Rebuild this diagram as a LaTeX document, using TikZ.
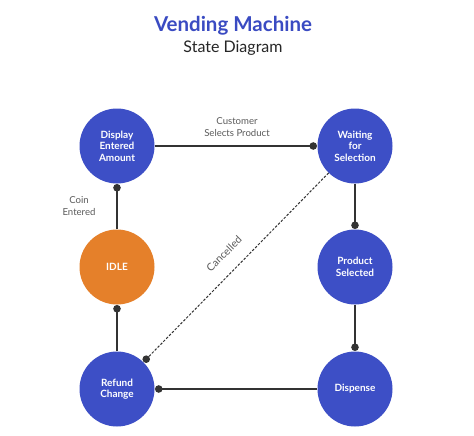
\documentclass[tikz,border=0pt]{standalone}
\usepackage{fontspec}
\setmainfont{Lato}
\usetikzlibrary{arrows.meta}
\definecolor{stblue}{HTML}{3D4FC6}
\definecolor{titleblue}{HTML}{3A4BC2}
\definecolor{storange}{HTML}{E5802A}
\definecolor{linegray}{HTML}{333333}
\definecolor{labelgray}{HTML}{5A5A5A}
\tikzset{
  state/.style={circle, fill=stblue, draw=none, minimum size=75pt, inner sep=0pt, align=center, text=white, font=\bfseries\fontsize{10}{11.5}\selectfont},
  idlestate/.style={state, fill=storange},
  conn/.style={draw=linegray, line width=1.1pt, -{Circle[length=7.5pt,width=7.5pt]}, shorten >=0.3pt},
  dashconn/.style={conn, line width=1pt, dash pattern=on 2.5pt off 1.6pt},
  lbl/.style={align=center, text=labelgray, font=\fontsize{9.6}{12}\selectfont}
}
\begin{document}
\begin{tikzpicture}[x=1pt,y=-1pt]
\fill[white] (0,0) rectangle (474,436);
\useasboundingbox (0,0) rectangle (474,436);
\node[text=titleblue, font=\bfseries\fontsize{20.5}{24}\selectfont] (title) at (233,26) {Vending Machine};
\node[text=black!85, font=\fontsize{16}{19}\selectfont] (subtitle) at (233,48) {State Diagram};

\node[state] (disp) at (117,146) {Display\\Entered\\Amount};
\node[state] (wait) at (355,146) {Waiting\\for\\Selection};
\node[idlestate] (idle) at (117,267) {IDLE};
\node[state] (prod) at (355,267) {Product\\Selected};
\node[state] (refund) at (117,389) {Refund\\Change};
\node[state] (dispense) at (355,389) {Dispense};

\draw[conn] (disp) -- (wait);
\draw[conn] (idle) -- (disp);
\draw[conn] (wait) -- (prod);
\draw[conn] (prod) -- (dispense);
\draw[conn] (dispense) -- (refund);
\draw[conn] (refund) -- (idle);
\draw[dashconn] (wait) -- (refund);

\node[lbl] (lcust) at (237,127) {Customer\\Selects Product};
\node[lbl] (lcoin) at (79,206) {Coin\\Entered};
\node[lbl, rotate=45, font=\fontsize{10.5}{12}\selectfont] (lcanc) at (224,254) {Cancelled};
\end{tikzpicture}
\end{document}
